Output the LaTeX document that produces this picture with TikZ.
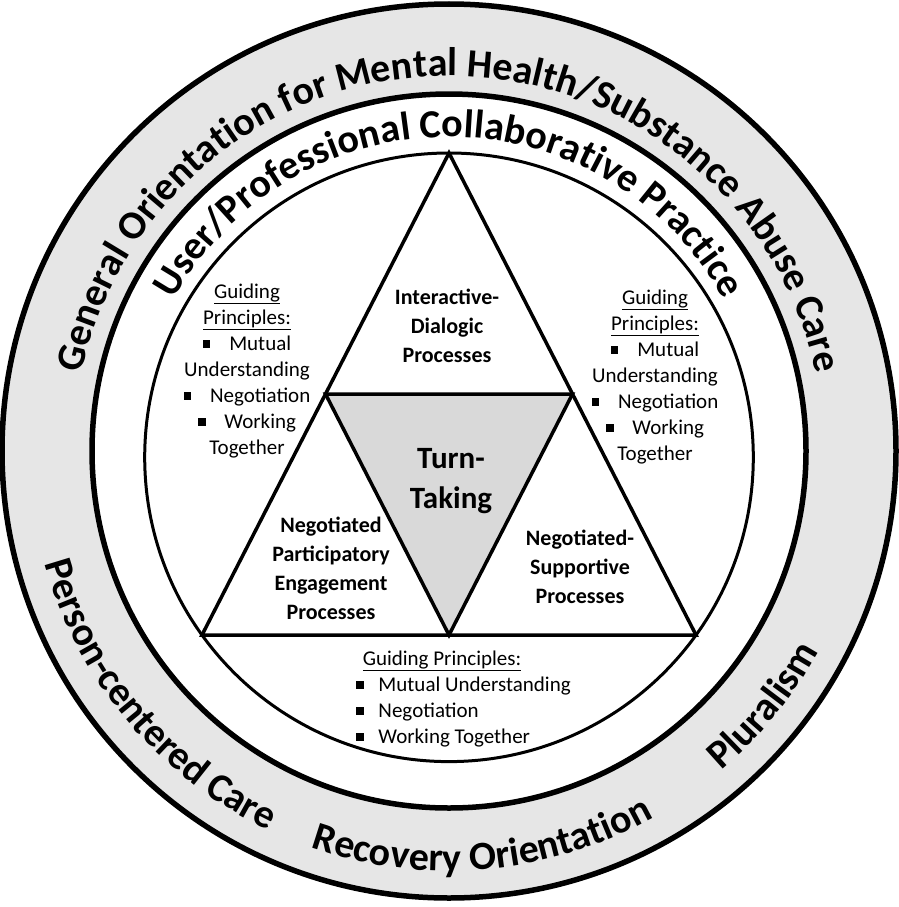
\documentclass[tikz,border=0pt]{standalone}
\usepackage{fontspec}
\setmainfont{Carlito}
\usetikzlibrary{decorations.text,calc}
\definecolor{ringgray}{RGB}{230,230,230}
\definecolor{trigray}{RGB}{217,217,217}
\newcommand{\bul}{\rule[0.12em]{0.36em}{0.36em}}
\newcommand{\arcfont}{\fontsize{40}{44}\selectfont\bfseries}
\begin{document}
\begin{tikzpicture}[x=1pt,y=1pt,
  procbox/.style={font=\fontsize{22}{29}\selectfont\bfseries, align=center, inner sep=0pt},
  gpbox/.style={font=\fontsize{21}{26}\selectfont, align=center, inner sep=0pt},
  arctext/.style={decorate, decoration={text along path, text align=center, text={|\arcfont|#1}}},
]
\useasboundingbox (0,0) rectangle (898,-907);
\coordinate (C) at (449,-451);
\filldraw[fill=ringgray, line width=5.5] (C) circle[radius=447];
\filldraw[fill=white, line width=5.5] (C) circle[radius=357];
\coordinate (TC) at (449,-457.3);
\draw[line width=3] (TC) circle[radius=304.3];
\coordinate (T) at (449,-153);
\coordinate (BL) at (202,-635);
\coordinate (BR) at (696,-635);
\coordinate (ML) at ($(T)!0.5!(BL)$);
\coordinate (MR) at ($(T)!0.5!(BR)$);
\coordinate (BM) at ($(BL)!0.5!(BR)$);
\draw[line width=3.5, line join=miter] (T) -- (BL) -- (BR) -- cycle;
\filldraw[fill=trigray, line width=3.5] (ML) -- (MR) -- (BM) -- cycle;
% curved texts
\path[arctext={General Orientation for Mental Health/Substance Abuse Care}] ($(C)+(180:375)$) arc[start angle=180,end angle=0,radius=375];
\path[arctext={User/Professional Collaborative Practice}] ($(C)+(180:314)$) arc[start angle=180,end angle=0,radius=314];
\path[arctext={Recovery Orientation}] ($(C)+(-135:420)$) arc[start angle=-135,end angle=-35,radius=420];
\path[arctext={Person-centered Care}] ($(C)+(180:420)$) arc[start angle=180,end angle=260,radius=420];
\path[arctext={Pluralism}] ($(C)+(-70:420)$) arc[start angle=-70,end angle=-8,radius=420];
% labels
\node[procbox] (idp) at (447,-326) {Interactive-\\Dialogic\\Processes};
\node[font=\fontsize{31}{40}\selectfont\bfseries, align=center, inner sep=0pt] (tt) at (451,-481) {Turn-\\Taking};
\node[procbox] (npe) at (331,-568) {Negotiated\\Participatory\\Engagement\\Processes};
\node[procbox] (nsp) at (580,-567) {Negotiated-\\Supportive\\Processes};
\node[gpbox] (gpl) at (247,-371) {\underline{Guiding}\\\underline{Principles:}\\\bul\hspace{0.9em}Mutual\\Understanding\\\bul\hspace{0.9em}Negotiation\\\bul\hspace{0.9em}Working\\Together};
\node[gpbox] (gpr) at (655,-377) {\underline{Guiding}\\\underline{Principles:}\\\bul\hspace{0.9em}Mutual\\Understanding\\\bul\hspace{0.9em}Negotiation\\\bul\hspace{0.9em}Working\\Together};
\node[gpbox] (gpbt) at (442,-661) {\underline{Guiding Principles:}};
\node[gpbox, align=left, anchor=west] (gpbl) at (356,-712) {\bul\hspace{0.7em}Mutual Understanding\\\bul\hspace{0.7em}Negotiation\\\bul\hspace{0.7em}Working Together};
\end{tikzpicture}
\end{document}
